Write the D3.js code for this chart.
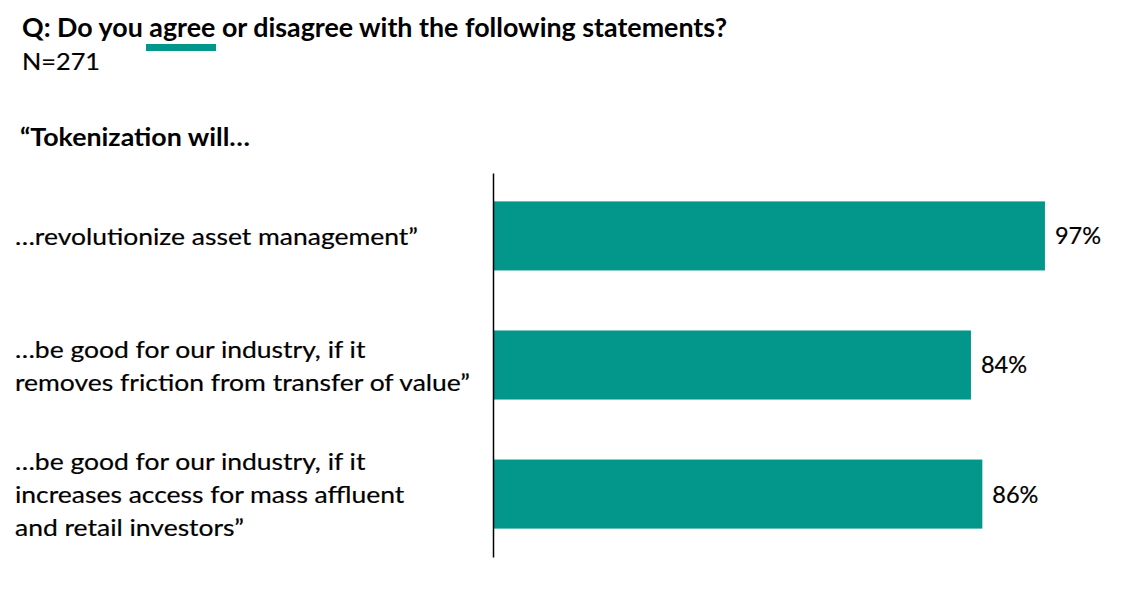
<!DOCTYPE html>
<html>
<head>
<meta charset="utf-8">
<script src="https://cdn.jsdelivr.net/npm/d3@7"></script>
<style>
  body { margin: 0; background: #fff; }
  text { font-family: Lato, "Open Sans", sans-serif; fill: #000; }
  .reg { stroke: #000; stroke-width: 0.2px; }
</style>
</head>
<body>
<svg id="chart"></svg>
<script>
const statements = [
  ['…revolutionize asset management”'],
  ['…be good for our industry, if it', 'removes friction from transfer of value”'],
  ['…be good for our industry, if it', 'increases access for mass affluent', 'and retail investors”']
];
const agreeShare = [97, 84, 86];
const titleText = 'Q: Do you agree or disagree with the following statements?';
const sampleText = 'N=271';
const leadText = '“Tokenization will…';

const W = 1131, H = 600;
const teal = '#03968a';

const svg = d3.select('#chart').attr('width', W).attr('height', H);

// squeeze a text to a target width (source font is Calibri, wider fallback here)
function fitWidth(sel, k) {
  sel.each(function () {
    const w = this.getComputedTextLength();
    d3.select(this).attr('textLength', w * k).attr('lengthAdjust', 'spacingAndGlyphs');
  });
}

const title = svg.append('text')
  .attr('x', 22).attr('y', 37)
  .style('font-size', '26px').style('font-weight', 700)
  .text(titleText);
fitWidth(title, 705 / title.node().getComputedTextLength());

svg.append('rect')
  .attr('x', 146).attr('y', 44).attr('width', 70).attr('height', 7)
  .attr('fill', teal);

const sample = svg.append('text')
  .attr('class', 'reg')
  .attr('x', 22).attr('y', 70)
  .style('font-size', '23px')
  .text(sampleText);
fitWidth(sample, 78 / sample.node().getComputedTextLength());

const lead = svg.append('text')
  .attr('x', 20).attr('y', 146)
  .style('font-size', '24px').style('font-weight', 700)
  .text(leadText);
fitWidth(lead, 230 / lead.node().getComputedTextLength());

const idx = d3.range(statements.length);

const y = d3.scaleBand()
  .domain(idx)
  .range([173, 557])
  .paddingInner(0.465)
  .paddingOuter(0.22);

const x = d3.scaleLinear()
  .domain([0, 100])
  .range([493, 1062]);

svg.selectAll('.bar')
  .data(idx)
  .enter()
  .append('rect')
  .attr('class', 'bar')
  .attr('x', x(0))
  .attr('y', i => y(i))
  .attr('width', i => x(agreeShare[i]) - x(0))
  .attr('height', y.bandwidth())
  .attr('fill', teal);

svg.append('g')
  .attr('transform', `translate(${x(0)},0)`)
  .call(d3.axisLeft(y).tickSize(0).tickFormat(''))
  .call(g => g.select('.domain').attr('stroke', '#000').attr('stroke-width', 1.5));

svg.selectAll('.val')
  .data(idx)
  .enter()
  .append('text')
  .attr('class', 'val reg')
  .attr('x', i => x(agreeShare[i]) + 10)
  .attr('y', i => y(i) + y.bandwidth() / 2)
  .attr('dy', '0.36em')
  .style('font-size', '23.5px')
  .text(i => agreeShare[i] + '%');

const lineH = 33;
const labels = svg.selectAll('.label')
  .data(idx)
  .enter()
  .append('text')
  .attr('class', 'label reg')
  .style('font-size', '22.5px');

labels.each(function (i) {
  const lines = statements[i];
  const cy = y(i) + y.bandwidth() / 2 + 1;
  d3.select(this).selectAll('tspan')
    .data(lines)
    .enter()
    .append('tspan')
    .attr('x', 15)
    .attr('y', (d, j) => cy + (j - (lines.length - 1) / 2) * lineH)
    .attr('dy', '0.36em')
    .text(d => d);
});

// one squeeze factor for all labels, taken from the widest line
const ref = labels.selectAll('tspan').filter(d => d.startsWith('removes')).node();
const k = 455 / ref.getComputedTextLength();
labels.selectAll('tspan').each(function () {
  const w = this.getComputedTextLength();
  d3.select(this).attr('textLength', w * k).attr('lengthAdjust', 'spacingAndGlyphs');
});
</script>
</body>
</html>
